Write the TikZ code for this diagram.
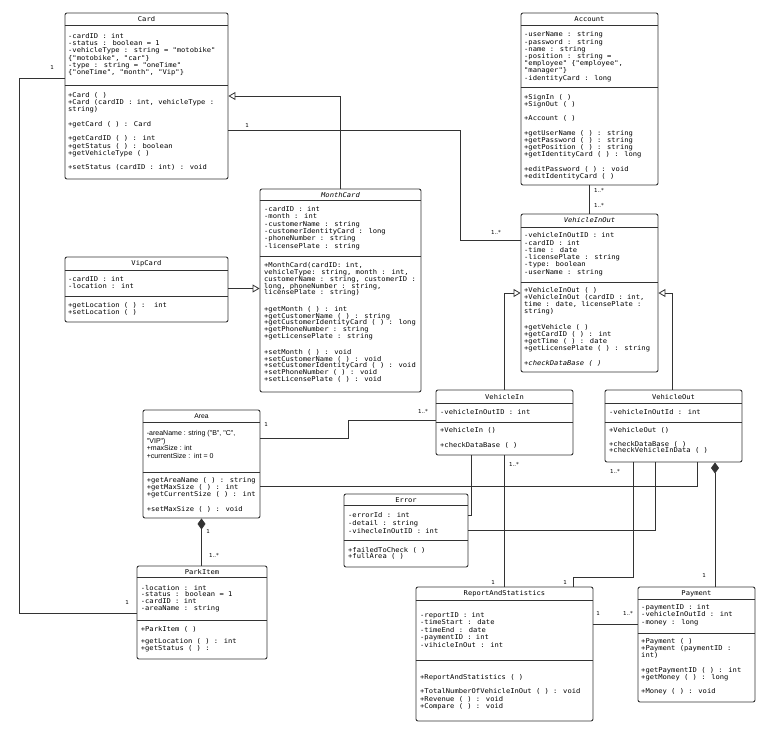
\documentclass[tikz,border=0pt]{standalone}
\usepackage{fontspec}
\newfontfamily\umlmono[FakeStretch=1.08]{DejaVu Sans Mono}
\newfontfamily\umlsans{Liberation Sans}
\newfontfamily\multfont{DejaVu Sans}
\usetikzlibrary{arrows.meta,fit}
\setlength\lineskiplimit{-5pt}
\setlength\lineskip{0pt}
\definecolor{ink}{HTML}{333333}
\tikzset{
  classbox/.style={draw=ink, line width=0.9pt, rounded corners=2pt, inner sep=0pt, fill=white},
  sepline/.style={draw=ink, line width=0.9pt},
  txt/.style={anchor=north west, inner sep=0pt, align=left, text=black,
              font=\umlmono\fontsize{6.6}{#1}\selectfont},
  sanstxt/.style={anchor=north west, inner sep=0pt, align=left, text=black,
              font=\umlsans\fontsize{7}{#1}\selectfont},
  ttl/.style={inner sep=0pt, text=black, font=\umlmono\fontsize{6.6}{7.3}\selectfont},
  conn/.style={draw=ink, line width=0.8pt},
  gen/.style={conn, arrows={-Triangle[open,length=7pt,width=8pt]}},
  comp/.style={conn, arrows={Diamond[length=11pt,width=8pt]-}},
  mult/.style={inner sep=0pt, text=black, font=\multfont\fontsize{5.5}{6}\selectfont},
}
\begin{document}
\begin{tikzpicture}[x=1pt,y=-1pt]
\useasboundingbox[fill=white] (0,0) rectangle (768,736);

% ---------- Card ----------
\node[classbox, fit={(65,13) (228,179)}] (card) {};
\draw[sepline] (card.west |- 0,25) -- (card.east |- 0,25);
\draw[sepline] (card.west |- 0,85) -- (card.east |- 0,85);
\node[ttl] (card-t) at (146.5,19.5) {Card};
\node[txt=7.3] (card-a) at (68,33) {-cardID : int\\-status : boolean = 1\\-vehicleType : string = "motobike"\\\{"motobike", "car"\}\\-type : string = "oneTime"\\\{"oneTime", "month", "Vip"\}};
\node[txt=7.3] (card-m) at (68,92) {+Card ( )\\+Card (cardID : int, vehicleType :\\string)\\[7.3pt]+getCard ( ) : Card\\[7pt]+getCardID ( ) : int\\+getStatus ( ) : boolean\\+getVehicleType ( )\\[7pt]+setStatus (cardID : int) : void};

% ---------- Account ----------
\node[classbox, fit={(521,13) (658,185)}] (account) {};
\draw[sepline] (account.west |- 0,25) -- (account.east |- 0,25);
\draw[sepline] (account.west |- 0,87) -- (account.east |- 0,87);
\node[ttl] (account-t) at (589.5,19.5) {Account};
\node[txt=7.2] (account-a) at (524,31.7) {-userName : string\\-password : string\\-name : string\\-position : string =\\"employee" \{"employee",\\"manager"\}\\-identityCard : long};
\node[txt=7.1] (account-m) at (524,94) {+SignIn ( )\\+SignOut ( )\\[7pt]+Account ( )\\[7.8pt]+getUserName ( ) : string\\+getPassword ( ) : string\\+getPosition ( ) : string\\+getIdentityCard ( ) : long\\[7.8pt]+editPassword ( ) : void\\+editIdentityCard ( )};

% ---------- MonthCard ----------
\node[classbox, fit={(260,189) (421,392)}] (monthcard) {};
\draw[sepline] (monthcard.west |- 0,200) -- (monthcard.east |- 0,200);
\draw[sepline] (monthcard.west |- 0,256) -- (monthcard.east |- 0,256);
\node[ttl, font=\umlmono\itshape\fontsize{6.6}{7.3}\selectfont] (monthcard-t) at (340.5,195) {MonthCard};
\node[txt=7.4] (monthcard-a) at (264,206) {-cardID : int\\-month : int\\-customerName : string\\-customerIdentityCard : long\\-phoneNumber : string\\-licensePlate : string};
\node[txt=6.7] (monthcard-m) at (264,262.7) {+MonthCard(cardID: int,\\vehicleType: string, month : int,\\customerName : string, customerID :\\long, phoneNumber : string,\\licensePlate : string)\\[10pt]+getMonth ( ) : int\\+getCustomerName ( ) : string\\+getCustomerIdentityCard ( ) : long\\+getPhoneNumber : string\\+getLicensePlate : string\\[9.6pt]+setMonth ( ) : void\\+setCustomerName ( ) : void\\+setCustomerIdentityCard ( ) : void\\+setPhoneNumber ( ) : void\\+setLicensePlate ( ) : void};

% ---------- VehicleInOut ----------
\node[classbox, fit={(521,214) (658,372)}] (vehicleinout) {};
\draw[sepline] (vehicleinout.west |- 0,227) -- (vehicleinout.east |- 0,227);
\draw[sepline] (vehicleinout.west |- 0,282) -- (vehicleinout.east |- 0,282);
\node[ttl, font=\umlmono\itshape\fontsize{6.6}{7.3}\selectfont] (vehicleinout-t) at (589.5,220.5) {VehicleInOut};
\node[txt=7.26] (vehicleinout-a) at (524,232.7) {-vehicleInOutID : int\\-cardID : int\\-time : date\\-licensePlate : string\\-type: boolean\\-userName : string};
\node[txt=7.23] (vehicleinout-m) at (524,287) {+VehicleInOut ( )\\+VehicleInOut (cardID : int,\\time : date, licensePlate :\\string)\\[8pt]+getVehicle ( )\\+getCardID ( ) : int\\+getTime ( ) : date\\+getLicensePlate ( ) : string\\[7.5pt]\textit{+checkDataBase ( )}};

% ---------- VipCard ----------
\node[classbox, fit={(65,257) (228,322)}] (vipcard) {};
\draw[sepline] (vipcard.west |- 0,270) -- (vipcard.east |- 0,270);
\draw[sepline] (vipcard.west |- 0,296) -- (vipcard.east |- 0,296);
\node[ttl] (vipcard-t) at (146.5,263.5) {VipCard};
\node[txt=7.7] (vipcard-a) at (68,276) {-cardID : int\\-location : int};
\node[txt=6.6] (vipcard-m) at (68,302.7) {+getLocation ( ) :~~int\\+setLocation ( )};

% ---------- Area ----------
\node[classbox, fit={(143,410) (260,518)}] (area) {};
\draw[sepline] (area.west |- 0,422) -- (area.east |- 0,422);
\draw[sepline] (area.west |- 0,472) -- (area.east |- 0,472);
\node[ttl, font=\umlsans\fontsize{6.8}{7}\selectfont] (area-t) at (201.5,416.5) {Area};
\node[sanstxt=7.8] (area-a) at (146.7,430) {-areaName : string ("B", "C",\\"VIP")\\+maxSize : int\\+currentSize :\ \ int = 0};
\node[txt=7] (area-m) at (146.7,477) {+getAreaName ( ) : string\\+getMaxSize ( ) : int\\+getCurrentSize ( ) : int\\[8pt]+setMaxSize ( ) : void};

% ---------- ParkItem ----------
\node[classbox, fit={(137,566) (267,659)}] (parkitem) {};
\draw[sepline] (parkitem.west |- 0,577) -- (parkitem.east |- 0,577);
\draw[sepline] (parkitem.west |- 0,620) -- (parkitem.east |- 0,620);
\node[ttl] (parkitem-t) at (202,572) {ParkItem};
\node[txt=6.7] (parkitem-a) at (140.7,585) {-location : int\\-status : boolean = 1\\-cardID : int\\-areaName : string};
\node[txt=6.5] (parkitem-m) at (140.7,626) {+ParkItem ( )\\[6.2pt]+getLocation ( ) : int\\+getStatus ( ) :};

% ---------- Error ----------
\node[classbox, fit={(344,494) (468,567)}] (error) {};
\draw[sepline] (error.west |- 0,505) -- (error.east |- 0,505);
\draw[sepline] (error.west |- 0,540) -- (error.east |- 0,540);
\node[ttl] (error-t) at (406,500) {Error};
\node[txt=8.2] (error-a) at (348,512) {-errorId : int\\-detail : string\\-vihecleInOutID : int};
\node[txt=6.7] (error-m) at (348,547) {+failedToCheck ( )\\+fullArea ( )};

% ---------- VehicleIn ----------
\node[classbox, fit={(436,390) (573,455)}] (vehiclein) {};
\draw[sepline] (vehiclein.west |- 0,403) -- (vehiclein.east |- 0,403);
\draw[sepline] (vehiclein.west |- 0,422) -- (vehiclein.east |- 0,422);
\node[ttl] (vehiclein-t) at (504.5,397) {VehicleIn};
\node[txt=7] (vehiclein-a) at (440,409) {-vehicleInOutID : int};
\node[txt=7.8] (vehiclein-m) at (440,427) {+VehicleIn ()\\[7.9pt]+checkDataBase ( )};

% ---------- VehicleOut ----------
\node[classbox, fit={(605,390) (742,462)}] (vehicleout) {};
\draw[sepline] (vehicleout.west |- 0,403) -- (vehicleout.east |- 0,403);
\draw[sepline] (vehicleout.west |- 0,422) -- (vehicleout.east |- 0,422);
\node[ttl] (vehicleout-t) at (673.5,397) {VehicleOut};
\node[txt=7] (vehicleout-a) at (609,409) {-vehicleInOutId : int};
\node[txt=6.5] (vehicleout-m) at (609,427) {+VehicleOut ()\\[7.5pt]+checkDataBase ( )\\+checkVehicleInData ( )};

% ---------- ReportAndStatistics ----------
\node[classbox, fit={(416,587) (593,721)}] (report) {};
\draw[sepline] (report.west |- 0,600) -- (report.east |- 0,600);
\draw[sepline] (report.west |- 0,660) -- (report.east |- 0,660);
\node[ttl] (report-t) at (504.5,594) {ReportAndStatistics};
\node[txt=7.5] (report-a) at (420,612) {-reportID : int\\-timeStart : date\\-timeEnd : date\\-paymentID : int\\-vihicleInOut : int};
\node[txt=7.2] (report-m) at (420,674) {+ReportAndStatistics ( )\\[7.5pt]+TotalNumberOfVehicleInOut ( ) : void\\+Revenue ( ) : void\\+Compare ( ) : void};

% ---------- Payment ----------
\node[classbox, fit={(638,587) (755,702)}] (payment) {};
\draw[sepline] (payment.west |- 0,599) -- (payment.east |- 0,599);
\draw[sepline] (payment.west |- 0,633) -- (payment.east |- 0,633);
\node[ttl] (payment-t) at (696.5,593.5) {Payment};
\node[txt=7.5] (payment-a) at (641,604) {-paymentID : int\\-vehicleInOutId : int\\-money : long};
\node[txt=7] (payment-m) at (641,638.7) {+Payment ( )\\+Payment (paymentID :\\int)\\[7.3pt]+getPaymentID ( ) : int\\+getMoney ( ) : long\\[7.7pt]+Money ( ) : void};

% ---------- connectors ----------
% Card -- ParkItem
\draw[conn] (card.west |- 0,78) -- (19,78) -- (19,613) -- (parkitem.west |- 0,613);
\node[mult] (m1) at (52,67) {1};
\node[mult] (m2) at (127,602) {1};
% MonthCard -> Card
\draw[gen] (monthcard.north) -- (monthcard.north |- 0,96) -- (card.east |- 0,96);
% Card -- VehicleInOut
\draw[conn] (card.east |- 0,130) -- (460,130) -- (460,240) -- (vehicleinout.west |- 0,240);
\node[mult] (m3) at (247,125) {1};
\node[mult] (m4) at (496,232) {1..*};
% Account -- VehicleInOut
\draw[conn] (account.south) -- (vehicleinout.north);
\node[mult] (m5) at (599,190) {1..*};
\node[mult] (m6) at (599,205) {1..*};
% VipCard -> MonthCard
\draw[gen] (vipcard.east |- 0,288.5) -- (monthcard.west |- 0,288.5);
% VehicleIn -> VehicleInOut
\draw[gen] (vehiclein.north) -- (vehiclein.north |- 0,293) -- (vehicleinout.west |- 0,293);
% VehicleOut -> VehicleInOut
\draw[gen] (vehicleout.north -| 672,0) -- (672,293) -- (vehicleinout.east |- 0,293);
% Area -- VehicleIn
\draw[conn] (area.east |- 0,438) -- (348,438) -- (348,420) -- (vehiclein.west |- 0,420);
\node[mult] (m7) at (266,424) {1};
\node[mult] (m8) at (423,411) {1..*};
% Area -- VehicleOut
\draw[conn] (area.east |- 0,486) -- (697,486) -- (vehicleout.south -| 697,0);
% VehicleIn -- Error
\draw[conn] (vehiclein.south -| 471,0) -- (471,515) -- (error.east |- 0,515);
% Error -- VehicleOut
\draw[conn] (error.east |- 0,530) -- (655,530) -- (vehicleout.south -| 655,0);
% VehicleIn -- Report
\draw[conn] (vehiclein.south) -- (report.north);
\node[mult] (m9) at (514,464) {1..*};
\node[mult] (m10) at (493,582) {1};
% VehicleOut -- Report
\draw[conn] (vehicleout.south -| 633,0) -- (633,577) -- (573,577) -- (report.north -| 573,0);
\node[mult] (m11) at (615,471) {1..*};
\node[mult] (m12) at (565,582) {1};
% Report -- Payment
\draw[conn] (report.east |- 0,624) -- (payment.west |- 0,624);
\node[mult] (m13) at (598,613) {1};
\node[mult] (m14) at (628,613) {1..*};
% Area <>-- ParkItem
\draw[comp] (area.south) -- (parkitem.north -| area.south);
\node[mult] (m15) at (208,531) {1};
\node[mult] (m16) at (214,555) {1..*};
% VehicleOut <>-- Payment
\draw[comp] (vehicleout.south -| 715,0) -- (payment.north -| 715,0);
\node[mult] (m17) at (704,575) {1};
\end{tikzpicture}
\end{document}
